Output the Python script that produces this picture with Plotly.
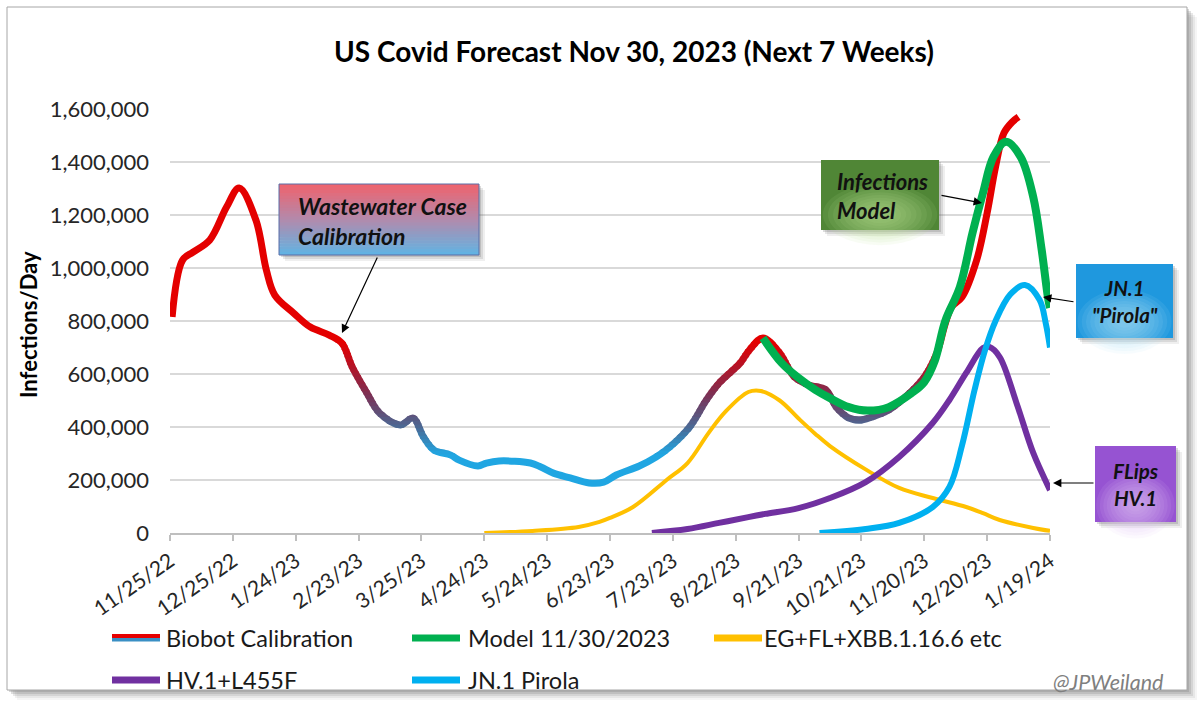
import plotly.graph_objects as go
import pandas as pd

# ---------------- data ----------------
TITLE = "US Covid Forecast Nov 30, 2023 (Next 7 Weeks)"
Y_TITLE = "Infections/Day"

biobot_dates = ["2022-11-26", "2022-12-01", "2022-12-06", "2022-12-14", "2022-12-22", "2022-12-28",
                "2023-01-05", "2023-01-10", "2023-01-14", "2023-01-23", "2023-01-31", "2023-02-09",
                "2023-02-15", "2023-02-20", "2023-02-27", "2023-03-05", "2023-03-15", "2023-03-21",
                "2023-03-26", "2023-03-31", "2023-04-08", "2023-04-12", "2023-04-21", "2023-04-25",
                "2023-05-01", "2023-05-16", "2023-05-21", "2023-05-27", "2023-06-04", "2023-06-13",
                "2023-06-20", "2023-06-26", "2023-07-07", "2023-07-15", "2023-07-21", "2023-07-31",
                "2023-08-08", "2023-08-14", "2023-08-20", "2023-08-24", "2023-08-29", "2023-09-04",
                "2023-09-12", "2023-09-19", "2023-09-26", "2023-10-04", "2023-10-09", "2023-10-15",
                "2023-10-20", "2023-10-26", "2023-11-03", "2023-11-13", "2023-11-20", "2023-11-26",
                "2023-11-30", "2023-12-03", "2023-12-08", "2023-12-15", "2023-12-20", "2023-12-24",
                "2023-12-28", "2024-01-01", "2024-01-04"]
biobot_values = [815000, 1030000, 1060000, 1106000, 1230000, 1302000,
                 1181000, 992000, 898000, 830000, 777000, 747000,
                 717000, 626000, 528000, 453000, 408000, 434000,
                 362000, 313000, 294000, 275000, 253000, 264000,
                 272000, 264000, 249000, 226000, 208000, 189000,
                 192000, 219000, 253000, 287000, 321000, 400000,
                 502000, 565000, 610000, 640000, 695000, 736000,
                 679000, 589000, 558000, 540000, 475000, 434000,
                 426000, 438000, 464000, 528000, 589000, 679000,
                 790000, 853000, 890000, 1030000, 1208000, 1381000,
                 1509000, 1551000, 1570000]

model_dates = ["2023-09-04", "2023-09-13", "2023-09-21", "2023-09-29", "2023-10-06", "2023-10-15",
               "2023-10-24", "2023-11-03", "2023-11-14", "2023-11-20", "2023-11-25", "2023-11-30",
               "2023-12-07", "2023-12-13", "2023-12-18", "2023-12-23", "2023-12-29", "2024-01-05",
               "2024-01-11", "2024-01-15", "2024-01-18", "2024-01-19"]
model_values = [736000, 641000, 585000, 540000, 509000, 475000,
                462000, 475000, 528000, 570000, 650000, 800000,
                928000, 1132000, 1283000, 1419000, 1476000, 1419000,
                1268000, 1070000, 890000, 850000]

eg_dates = ["2023-04-24", "2023-05-17", "2023-06-08", "2023-06-18", "2023-06-23", "2023-07-04",
            "2023-07-20", "2023-07-30", "2023-08-09", "2023-08-17", "2023-08-28", "2023-09-03",
            "2023-09-12", "2023-09-21", "2023-09-29", "2023-10-06", "2023-10-23", "2023-11-08",
            "2023-11-24", "2023-12-10", "2023-12-18", "2023-12-26", "2024-01-11", "2024-01-19"]
eg_values = [0, 8000, 23000, 42000, 57000, 98000,
             200000, 264000, 377000, 457000, 532000, 536000,
             500000, 432000, 374000, 328000, 240000, 170000,
             132000, 98000, 75000, 49000, 19000, 8000]

hv_dates = ["2023-07-13", "2023-07-30", "2023-08-14", "2023-08-28", "2023-09-05", "2023-09-21",
            "2023-10-06", "2023-10-23", "2023-11-08", "2023-11-24", "2023-12-02", "2023-12-10",
            "2023-12-18", "2023-12-21", "2023-12-26", "2024-01-03", "2024-01-11", "2024-01-19"]
hv_values = [0, 15000, 38000, 60000, 72000, 94000,
             132000, 192000, 287000, 415000, 502000, 604000,
             698000, 702000, 664000, 491000, 302000, 162000]

jn_dates = ["2023-10-01", "2023-10-23", "2023-11-08", "2023-11-24", "2023-12-02", "2023-12-08",
            "2023-12-14", "2023-12-19", "2023-12-24", "2023-12-31", "2024-01-07", "2024-01-14",
            "2024-01-17", "2024-01-19"]
jn_values = [0, 15000, 38000, 98000, 174000, 330000,
             540000, 690000, 800000, 900000, 936000, 880000,
             790000, 700000]

tick_dates = ["2022-11-25", "2022-12-25", "2023-01-24", "2023-02-23", "2023-03-25", "2023-04-24",
              "2023-05-24", "2023-06-23", "2023-07-23", "2023-08-22", "2023-09-21", "2023-10-21",
              "2023-11-20", "2023-12-20", "2024-01-19"]
tick_labels = ["11/25/22", "12/25/22", "1/24/23", "2/23/23", "3/25/23", "4/24/23",
               "5/24/23", "6/23/23", "7/23/23", "8/22/23", "9/21/23", "10/21/23",
               "11/20/23", "12/20/23", "1/19/24"]

legend_names = ["Biobot Calibration", "Model 11/30/2023", "EG+FL+XBB.1.16.6 etc",
                "HV.1+L455F", "JN.1 Pirola"]

# ---------------- layout helpers ----------------
W, H = 1200, 706
ML, MR, MT, MB = 170, 150, 109, 173
PW, PH = W - ML - MR, H - MT - MB
FONT = "Lato"
Y_MAX = 1600000


def px(x):
    return (x - ML) / PW


def py(y):
    return (H - MB - y) / PH


def rgb(c):
    return "rgb(%d,%d,%d)" % tuple(c)


def lerp(c1, c2, t):
    return tuple(round(a + (b - a) * t) for a, b in zip(c1, c2))


# vertical (value based) colour gradient of the Biobot line
GRAD_STOPS = [(300000, (32, 166, 226)), (400000, (74, 106, 150)), (520000, (122, 50, 86)),
              (650000, (190, 14, 30)), (720000, (228, 0, 0))]


def grad_color(v):
    if v <= GRAD_STOPS[0][0]:
        return rgb(GRAD_STOPS[0][1])
    for (v0, c0), (v1, c1) in zip(GRAD_STOPS, GRAD_STOPS[1:]):
        if v <= v1:
            return rgb(lerp(c0, c1, (v - v0) / (v1 - v0)))
    return rgb(GRAD_STOPS[-1][1])


fig = go.Figure()

# EG series on the main axis (drawn first, lowest layer)
fig.add_trace(go.Scatter(x=pd.to_datetime(eg_dates), y=eg_values, mode="lines", name=legend_names[2],
                         line=dict(color="#ffc000", width=4, shape="spline"), showlegend=False))

# Biobot line drawn once per horizontal colour band; every band is its own
# y-axis whose domain matches its value range, so the stroke is clipped to the band.
band_edges = [0, 300000]
step = 14000
v = 300000
while v + step < 720000:
    v += step
    band_edges.append(v)
band_edges += [720000, Y_MAX]

layout_axes = {}
OVL = 0.7 / PH  # tiny overlap between bands (in domain units) to avoid seams
bd = pd.to_datetime(biobot_dates)
k = 0
for k, (lo, hi) in enumerate(zip(band_edges[:-1], band_edges[1:])):
    d0 = max(lo / Y_MAX - OVL, 0.0)
    d1 = min(hi / Y_MAX + OVL, 1.0)
    name = "y%d" % (k + 2)
    layout_axes["yaxis%d" % (k + 2)] = dict(domain=[d0, d1], range=[d0 * Y_MAX, d1 * Y_MAX], visible=False,
                                           anchor="x", showgrid=False, zeroline=False, fixedrange=True)
    fig.add_trace(go.Scatter(x=bd, y=biobot_values, yaxis=name, mode="lines",
                             line=dict(color=grad_color((lo + hi) / 2), width=7, shape="spline"),
                             showlegend=False, hoverinfo="skip", name=legend_names[0]))

# variant / model series on a full-height axis drawn above the Biobot bands
top_axis = k + 3
layout_axes["yaxis%d" % top_axis] = dict(domain=[0, 1], range=[0, Y_MAX], visible=False, anchor="x",
                                         showgrid=False, zeroline=False, fixedrange=True)
ytop = "y%d" % top_axis
fig.add_trace(go.Scatter(x=pd.to_datetime(hv_dates), y=hv_values, mode="lines", name=legend_names[3],
                         yaxis=ytop, line=dict(color="#7030a0", width=6, shape="spline"), showlegend=False))
fig.add_trace(go.Scatter(x=pd.to_datetime(jn_dates), y=jn_values, mode="lines", name=legend_names[4],
                         yaxis=ytop, line=dict(color="#00b0f0", width=6, shape="spline"), showlegend=False))
fig.add_trace(go.Scatter(x=pd.to_datetime(model_dates), y=model_values, mode="lines", name=legend_names[1],
                         yaxis=ytop, line=dict(color="#00b050", width=8, shape="spline"), showlegend=False))

shapes = []


def rect(x0, y0, x1, y1, fill, line=None, lw=0, opacity=1.0, layer="above"):
    return dict(type="rect", xref="paper", yref="paper", x0=px(x0), x1=px(x1), y0=py(y1), y1=py(y0),
                fillcolor=fill, line=dict(width=lw, color=line or "rgba(0,0,0,0)"),
                opacity=opacity, layer=layer)


def ellipse(cx, cy, rx, ry, fill, opacity):
    return dict(type="circle", xref="paper", yref="paper", x0=px(cx - rx), x1=px(cx + rx),
                y0=py(cy + ry), y1=py(cy - ry), fillcolor=fill, line=dict(width=0),
                opacity=opacity, layer="above")


# chart frame with shadow
for kk, op in [(10, 0.08), (8, 0.12), (6, 0.18), (4, 0.25), (2, 0.3)]:
    shapes.append(rect(7 + kk, 7 + kk, 1187 + kk, 690 + kk, "#808080", opacity=op, layer="below"))
shapes.append(rect(7, 7, 1187, 690, "white", line="#a6a6a6", lw=1, layer="below"))


def box_shadow(x0, y0, x1, y1):
    for kk, op in [(6, 0.10), (4, 0.15), (2, 0.22)]:
        shapes.append(rect(x0 + kk, y0 + kk, x1 + kk, y1 + kk, "#606060", opacity=op))


# Wastewater box (vertical red->blue gradient)
bx0, by0, bx1, by1 = 279, 184, 479, 255
box_shadow(bx0, by0, bx1, by1)
n = 24
top_c, mid_c, bot_c = (240, 98, 108), (178, 138, 172), (96, 180, 228)
for i in range(n):
    t = (i + 0.5) / n
    c = lerp(top_c, mid_c, t / 0.5) if t < 0.5 else lerp(mid_c, bot_c, (t - 0.5) / 0.5)
    ya = by0 + (by1 - by0) * i / n
    yb = by0 + (by1 - by0) * (i + 1) / n + 0.6
    shapes.append(rect(bx0, ya, bx1, min(yb, by1), rgb(c)))
shapes.append(rect(bx0, by0, bx1, by1, "rgba(0,0,0,0)", line="#5b6fa8", lw=1))


def radial_box(x0, y0, x1, y1, base, light, strength=0.11):
    box_shadow(x0, y0, x1, y1)
    shapes.append(rect(x0, y0, x1, y1, base))
    cx = (x0 + x1) / 2
    cy = y0 + (y1 - y0) * 0.78
    w, h = (x1 - x0) / 2, (y1 - y0) * 0.45
    for i in range(10):
        f = 1.0 - i * 0.09
        shapes.append(ellipse(cx, cy, w * f * 0.97, h * f * 0.97, light, strength))


radial_box(821, 160, 939, 230, "#508636", "#b8e690", 0.10)
radial_box(1076, 264, 1173, 338, "#1f98de", "#b0e0f8", 0.10)
radial_box(1095, 446, 1176, 522, "#9653d2", "#e0c8f6", 0.10)

# custom legend swatches
LEG_ROWS = [638, 680]
LEG_COLS = [(112, 164), (412, 466), (714, 762)]
legend_items = [
    (0, 0, None), (0, 1, "#00b050"), (0, 2, "#ffc000"),
    (1, 0, "#7030a0"), (1, 1, "#00b0f0"),
]
for (r, c, col), name in zip(legend_items, legend_names):
    yy = LEG_ROWS[r]
    sx0, tx = LEG_COLS[c]
    if col is None:
        shapes.append(rect(sx0, yy - 4, sx0 + 48, yy, "#e60000"))
        shapes.append(rect(sx0, yy, sx0 + 48, yy + 3.5, "#3a8fc4"))
    else:
        shapes.append(rect(sx0, yy - 3.5, sx0 + 48, yy + 3.5, col))

annotations = []
for (r, c, col), name in zip(legend_items, legend_names):
    annotations.append(dict(text=name, xref="paper", yref="paper", x=px(LEG_COLS[c][1]), y=py(LEG_ROWS[r]),
                            xanchor="left", yanchor="middle", showarrow=False,
                            font=dict(family=FONT, size=23.5, color="#1a1a1a")))

# box texts
annotations += [
    dict(text="<b><i>Wastewater Case<br>Calibration</i></b>", xref="paper", yref="paper",
         x=px(296), y=py(221), xanchor="left", yanchor="middle", align="left", showarrow=False,
         font=dict(family=FONT, size=23, color="#111111")),
    dict(text="<b><i>Infections<br>Model</i></b>", xref="paper", yref="paper",
         x=px(835), y=py(196), xanchor="left", yanchor="middle", align="left", showarrow=False,
         font=dict(family=FONT, size=22, color="#111111")),
    dict(text="<b><i>JN.1<br>\"Pirola\"</i></b>", xref="paper", yref="paper",
         x=px(1124.5), y=py(301), xanchor="center", yanchor="middle", align="center", showarrow=False,
         font=dict(family=FONT, size=20.5, color="#111111")),
    dict(text="<b><i>FLips<br>HV.1</i></b>", xref="paper", yref="paper",
         x=px(1135.5), y=py(484), xanchor="center", yanchor="middle", align="center", showarrow=False,
         font=dict(family=FONT, size=20.5, color="#111111")),
]

# arrows (head position, tail offset in pixels)
for hx, hy, ax, ay in [(342, 333, 36, -77), (982, 203, -42, -8), (1043, 297, 32, 5), (1053, 483, 42, 0)]:
    annotations.append(dict(text="", xref="paper", yref="paper", x=px(hx), y=py(hy), ax=ax, ay=ay,
                            showarrow=True, arrowhead=2, arrowsize=1.4, arrowwidth=1.2,
                            arrowcolor="#000000"))

# y title and credit
annotations.append(dict(text="<b>" + Y_TITLE + "</b>", xref="paper", yref="paper", x=px(28), y=py(325),
                        xanchor="center", yanchor="middle", textangle=-90, showarrow=False,
                        font=dict(family=FONT, size=22, color="#000000")))
annotations.append(dict(text="<i>@JPWeiland</i>", xref="paper", yref="paper", x=px(1166), y=py(682),
                        xanchor="right", yanchor="middle", showarrow=False,
                        font=dict(family=FONT, size=21.5, color="#7f7f7f")))

fig.update_layout(
    width=W, height=H,
    margin=dict(l=ML, r=MR, t=MT, b=MB),
    paper_bgcolor="white", plot_bgcolor="rgba(0,0,0,0)",
    title=dict(text="<b>" + TITLE + "</b>", x=634 / W, xanchor="center", xref="container",
               y=1 - 52 / H, yanchor="middle", yref="container",
               font=dict(family=FONT, size=28, color="#000000")),
    shapes=shapes, annotations=annotations, showlegend=False,
    xaxis=dict(type="date", range=[tick_dates[0], tick_dates[-1]], tickmode="array",
               tickvals=tick_dates, ticktext=tick_labels, tickangle=-35,
               tickfont=dict(family=FONT, size=21, color="#262626"),
               showgrid=False, showline=True, linecolor="#bfbfbf", linewidth=1.5,
               ticks="outside", ticklen=6, tickcolor="#bfbfbf", tickwidth=1.5, zeroline=False),
    yaxis=dict(visible=True, range=[0, Y_MAX], dtick=200000, tickformat=",d",
               tickfont=dict(family=FONT, size=22, color="#262626"),
               showgrid=True, gridcolor="#d9d9d9", gridwidth=1.5, zeroline=False,
               showline=False, ticks="", ticklabelstandoff=20),
    **layout_axes,
)

fig.write_html("out.html")
